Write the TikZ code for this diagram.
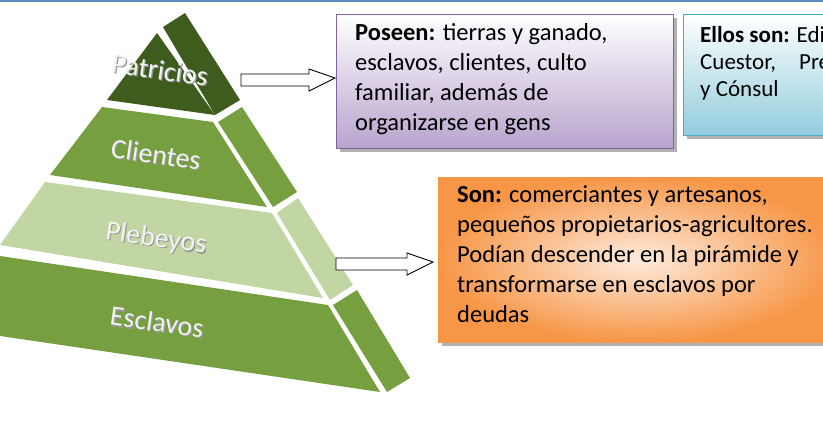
\documentclass[tikz,border=0pt]{standalone}
\usepackage{fontspec}
\setmainfont{Carlito}
\definecolor{gdark}{HTML}{3E5C1D}
\definecolor{gmid}{HTML}{76A03F}
\definecolor{glight}{HTML}{C2D6A3}
\tikzset{
  lbl/.style={text=white!90!gray,font=\fontsize{28}{30}\selectfont,rotate=-8},
  lblsh/.style={text=black!40,font=\fontsize{28}{30}\selectfont,rotate=-8},
  txt/.style={anchor=north west,align=left,font=\fontsize{24.5}{30}\selectfont,inner sep=0pt},
  blk/.style={draw=black,fill=white,line width=0.9pt},
}
\begin{document}
\begin{tikzpicture}[x=1pt,y=-1pt]
\useasboundingbox (0,0) rectangle (823,432);
\clip (0,0) rectangle (823,432);
\draw[color={rgb,255:red,90;green,140;blue,190},line width=1.5pt] (0,1) -- (823,1);
% pyramid front
\fill[gdark] (157,33) -- (107,100) -- (215,115) -- cycle;
\fill[gmid] (102,107) -- (213,122) -- (267,207) -- (50,175) -- cycle;
\fill[glight] (45,182) -- (272,213) -- (323,298) -- (0,245) -- cycle;
\fill[gmid] (-20,253) -- (328,305) -- (380,392) -- (-20,333) -- cycle;
% sides
\fill[gdark] (163,27) -- (185,13) -- (240,100) -- (215,115) -- cycle;
\fill[gmid] (218,122) -- (242,107) -- (297,192) -- (273,207) -- cycle;
\fill[glight] (277,213) -- (298,198) -- (353,285) -- (330,300) -- cycle;
\fill[gmid] (333,305) -- (357,290) -- (410,378) -- (387,392) -- cycle;
% labels
\foreach \n/\x/\y/\t in {lp/160/70/Patricios,lc/156/154/Clientes,lpl/156/239/Plebeyos,le/157/322/Esclavos}{
  \node[lblsh] at (\x+1.2,\y+1.2) {\t};
  \node[lbl] (\n) at (\x,\y) {\t};
}
% boxes
\fill[gray!60] (340,18) rectangle (677,152);
\shade[top color=white,bottom color={rgb,255:red,184;green,164;blue,206},draw={rgb,255:red,128;green,100;blue,162},line width=1pt] (336,14) rectangle (673,148);
\node[txt] (tp) at (355,23) {\textbf{Poseen:} tierras y ganado,\\esclavos, clientes, culto\\familiar, además de\\organizarse en gens};
\fill[gray!60] (687,18) rectangle (830,139);
\shade[top color=white,bottom color={rgb,255:red,146;green,205;blue,221},draw={rgb,255:red,75;green,172;blue,198},line width=1pt] (683,14) rectangle (840,135);
\node[txt,font=\fontsize{23}{27}\selectfont] (tb) at (700,26) {\textbf{Ellos son:} Edil,\\Cuestor,\quad Pretor\\y Cónsul};
\fill[gray!60] (442,181) rectangle (830,346);
\shade[inner color={rgb,255:red,253;green,235;blue,222},outer color={rgb,255:red,247;green,150;blue,70},draw={rgb,255:red,247;green,150;blue,70},line width=1pt] (438,177) rectangle (840,342);
\node[txt] (to) at (457,185) {\textbf{Son:} comerciantes y artesanos,\\pequeños propietarios-agricultores.\\Podían descender en la pirámide y\\transformarse en esclavos por\\deudas};
% arrows
\coordinate (a1s) at (241,78); \coordinate (a1e) at (335,78);
\coordinate (a2s) at (336,262); \coordinate (a2e) at (433,262);
\draw[blk] (a1s) ++(0,-4) -- ++(68,0) -- ++(0,-5) -- (a1e) -- ++(-26,13) -- ++(0,-5) -- ++(-68,0) -- cycle;
\draw[blk] (a2s) ++(0,-4) -- ++(71,0) -- ++(0,-5) -- (a2e) -- ++(-26,13) -- ++(0,-5) -- ++(-71,0) -- cycle;
\end{tikzpicture}
\end{document}
